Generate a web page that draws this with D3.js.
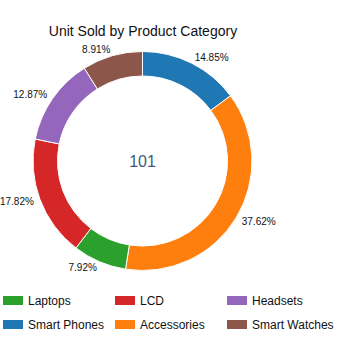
<!DOCTYPE html>
<html><head><meta charset="utf-8">
<script src="https://cdn.jsdelivr.net/npm/d3@7"></script>
<style>body{margin:0;background:#fff;} svg{display:block;font-family:Arial,"Liberation Sans",sans-serif;}</style>
</head><body>
<svg id="c" width="338" height="354"></svg>
<script>
const categories = ["Smart Phones","Accessories","Laptops","LCD","Headsets","Smart Watches"];
const values = [15,38,8,18,13,9];
const colors = ["#1f77b4","#ff7f0e","#2ca02c","#d62728","#9467bd","#8c564b"];
const legendOrder = ["Laptops","LCD","Headsets","Smart Phones","Accessories","Smart Watches"];
const title = "Unit Sold by Product Category";

const svg = d3.select("#c");
const cx = 142.5, cy = 161, rOut = 109.5, rIn = 85, rLab = 116;
const total = d3.sum(values);
const color = d3.scaleOrdinal().domain(categories).range(colors);
const data = categories.map((c,i)=>({cat:c, v:values[i]}));
const pie = d3.pie().value(d=>d.v).sort(null);
const arcs = pie(data);
const arc = d3.arc().innerRadius(rIn).outerRadius(rOut);

svg.append("text").attr("x",143).attr("y",36).attr("text-anchor","middle")
  .attr("font-size",14).attr("fill","#111").text(title);

const g = svg.append("g").attr("transform",`translate(${cx},${cy})`);
g.selectAll("path").data(arcs).join("path").attr("d",arc)
  .attr("fill",d=>color(d.data.cat)).attr("stroke","#fff").attr("stroke-width",1);

g.selectAll("text.lab").data(arcs).join("text").attr("class","lab")
  .each(function(d){
    const a=(d.startAngle+d.endAngle)/2;
    const x=Math.sin(a)*rLab, y=-Math.cos(a)*rLab;
    d3.select(this).attr("x",x).attr("y",y).attr("dy","0.35em")
      .attr("text-anchor", x>=0?"start":"end");
  })
  .attr("font-size",10).attr("fill","#111")
  .text(d=>(d.data.v/total*100).toFixed(2)+"%");

g.append("text").attr("x",0).attr("y",0).attr("dy","0.35em").attr("text-anchor","middle")
  .attr("font-size",16).attr("fill","#3d5a80").text(total);

const lg = svg.append("g");
legendOrder.forEach((c,i)=>{
  const col=i%3, row=Math.floor(i/3);
  const x=3+col*112, y=296+row*24;
  lg.append("rect").attr("x",x).attr("y",y).attr("width",20).attr("height",9).attr("fill",color(c));
  lg.append("text").attr("x",x+25).attr("y",y+4.5).attr("dy","0.35em").attr("font-size",12).attr("fill","#111").text(c);
});
</script>
</body></html>
